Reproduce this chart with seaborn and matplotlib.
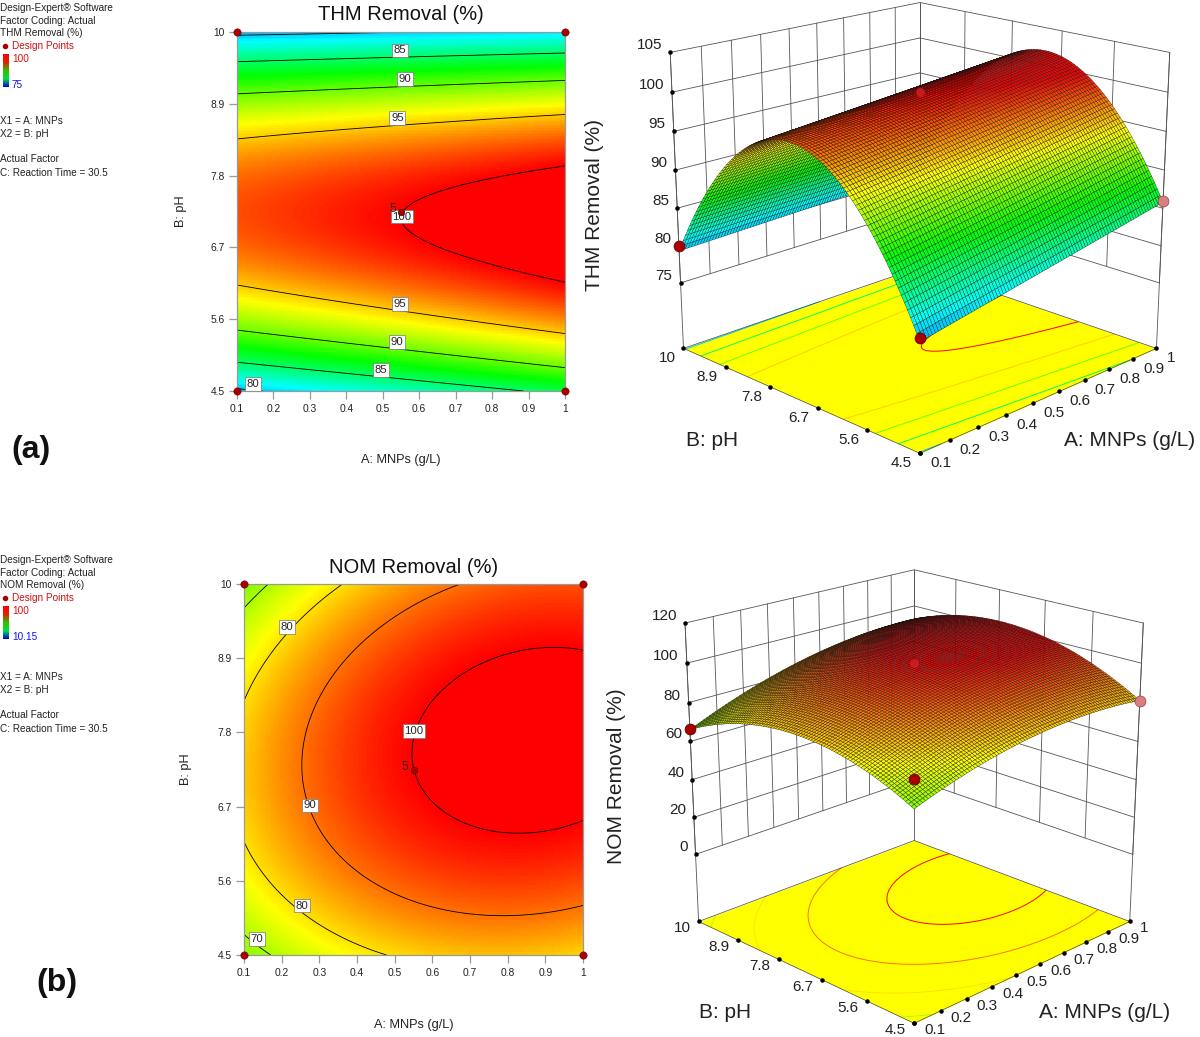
import numpy as np
import pandas as pd
import seaborn as sns
import matplotlib
matplotlib.use('Agg')
import matplotlib.pyplot as plt
from matplotlib.colors import LinearSegmentedColormap, Normalize
from mpl_toolkits.mplot3d import proj3d

# factor levels and ticks
mnp_ticks = [0.1, 0.2, 0.3, 0.4, 0.5, 0.6, 0.7, 0.8, 0.9, 1]
ph_ticks = [4.5, 5.6, 6.7, 7.8, 8.9, 10]
mnp_read = [0.1, 0.55, 1]
thm_z_ticks = [75, 80, 85, 90, 95, 100, 105]
nom_z_ticks = [0, 20, 40, 60, 80, 100, 120]

# removal values, one row per MNP level, pH along columns
thm_01 = [79.5, 91.4, 97.4, 97.3, 91.3, 79.35]
thm_055 = [82.65, 94.1, 99.5, 99.0, 92.4, 79.9]
thm_1 = [85.8, 96.7, 101.6, 100.6, 93.6, 80.6]
nom_01 = [66.7, 76.8, 81.7, 81.6, 76.4, 66.1]
nom_055 = [81.3, 92.6, 98.8, 99.9, 95.9, 86.9]
nom_1 = [81.1, 93.6, 101.0, 103.3, 100.6, 92.8]

thm_levels = [80, 85, 90, 95, 100]
nom_levels = [70, 80, 90, 100]

# contour label boxes: text, MNP, pH
thm_labels = [('85', 0.547, 9.72), ('90', 0.56, 9.28), ('95', 0.54, 8.68), ('100', 0.553, 7.17),
              ('95', 0.547, 5.83), ('90', 0.54, 5.25), ('85', 0.495, 4.82), ('80', 0.144, 4.61)]
nom_labels = [('80', 0.214, 9.36), ('90', 0.275, 6.72), ('100', 0.551, 7.82),
              ('80', 0.254, 5.23), ('70', 0.135, 4.74)]

# design points
corner_mnp = [0.1, 1, 0.1, 1]
corner_ph = [4.5, 4.5, 10, 10]
center_mnp = 0.55
center_ph = 7.25

# design points on the 3D plots: front, left, right, center
pts_mnp = [0.1, 0.1, 1, 0.55]
pts_ph = [4.5, 10, 4.5, 7.25]
thm_pts = [80, 80, 86, 100]
nom_pts = [80.7, 66.5, 81, 100]

sns.set_style('white')
plt.rcParams['font.family'] = ['Liberation Sans', 'DejaVu Sans']

cmap = LinearSegmentedColormap.from_list('de', ['#0000ff', '#00ffff', '#00ff00', '#ffff00', '#ff0000'])
legend_cmap = LinearSegmentedColormap.from_list('leg', ['#0000e0', '#00e040', '#30c000', '#e02000', '#ff0000'])
RED = '#a80000'


def fit_surface(table, x, y):
    # quadratic response model through the values
    rows = []
    vals = []
    for i, m in enumerate(mnp_read):
        for j, p in enumerate(ph_ticks):
            rows.append([1, m, p, m * p, m * m, p * p])
            vals.append(table[i][j])
    coef = np.linalg.lstsq(np.array(rows), np.array(vals), rcond=None)[0]
    return coef[0] + coef[1] * x + coef[2] * y + coef[3] * x * y + coef[4] * x * x + coef[5] * y * y


fig = plt.figure(figsize=(12, 10.37), dpi=100)


def px_text(x, y, s, **kw):
    fig.text(x / 1200, 1 - y / 1037, s, **kw)


def px_axes(left, top, right, bottom, **kw):
    return fig.add_axes([left / 1200, 1 - bottom / 1037, (right - left) / 1200, (bottom - top) / 1037], **kw)


def contour_panel(box, table, vmin, vmax, levels, labels, title, title_pad, xpad, ypad):
    left, top, right, bottom = box
    n = 220
    mg = np.linspace(0.1, 1, n)
    pg = np.linspace(4.5, 10, n)
    X, Y = np.meshgrid(mg, pg)
    Z = fit_surface(table, X, Y)
    df = pd.DataFrame(Z, index=pg, columns=mg)
    ax = px_axes(left, top, right, bottom)
    sns.heatmap(df, ax=ax, cmap=cmap, vmin=vmin, vmax=vmax, cbar=False, xticklabels=False, yticklabels=False)
    ax.invert_yaxis()

    def ix(v):
        return (np.asarray(v) - 0.1) / 0.9 * (n - 1) + 0.5

    def iy(v):
        return (np.asarray(v) - 4.5) / 5.5 * (n - 1) + 0.5

    ax.set_xlim(0.5, n - 0.5)
    ax.set_ylim(0.5, n - 0.5)
    ax.contour(ix(X), iy(Y), Z, levels=levels, colors='black', linewidths=0.6)
    ax.set_xticks(ix(mnp_ticks))
    ax.set_xticklabels([str(t) for t in mnp_ticks], fontsize=7.4)
    ax.set_yticks(iy(ph_ticks))
    ax.set_yticklabels([str(t) for t in ph_ticks], fontsize=7.4)
    ax.tick_params(left=True, bottom=True, length=6, width=0.9, color='#999999', pad=3, labelcolor='#222222')
    for s in ax.spines.values():
        s.set_visible(True)
        s.set_color('#999999')
        s.set_linewidth(0.9)
    for s, m, p in labels:
        ax.text(ix(m), iy(p), s, fontsize=8.2, ha='center', va='center', zorder=5,
                bbox=dict(boxstyle='square,pad=0.15', fc='white', ec='#777777', lw=0.5))
    ax.scatter(ix(corner_mnp), iy(corner_ph), s=28, color=RED, edgecolor='#700000', linewidth=0.4,
               clip_on=False, zorder=6)
    ax.scatter(ix(center_mnp), iy(center_ph), s=22, color=RED, edgecolor='#500000', linewidth=0.5, zorder=6)
    ax.text(ix(center_mnp - 0.022), iy(center_ph + 0.04), '5', fontsize=8.5, ha='center', va='center', zorder=6)
    ax.set_title(title, fontsize=14.5, pad=title_pad, color='#111111')
    ax.set_xlabel('A: MNPs (g/L)', fontsize=9.2, labelpad=xpad, color='#222222')
    ax.set_ylabel('B: pH', fontsize=9.2, labelpad=ypad, color='#222222')


def side_legend(y0, low, resp, vmin_text):
    c = '#222222'
    px_text(0, y0, 'Design-Expert® Software', fontsize=7.2, va='center', color=c)
    px_text(0, y0 + 13, 'Factor Coding: Actual', fontsize=7.2, va='center', color=c)
    px_text(0, y0 + 25.5, resp + ' Removal (%)', fontsize=7.2, va='center', color=c)
    px_text(12, y0 + 38, 'Design Points', fontsize=7.2, va='center', color='#d01010')
    fig.add_artist(plt.Line2D([5 / 1200], [1 - (y0 + 38) / 1037], marker='o', ms=3, color=RED,
                              transform=fig.transFigure))
    cax = px_axes(2.5, y0 + 46, 9, y0 + 79)
    sm = plt.cm.ScalarMappable(cmap=legend_cmap)
    cb = fig.colorbar(sm, cax=cax, ticks=[])
    cb.outline.set_visible(False)
    px_text(12, y0 + 51, '100', fontsize=7.2, va='center', color='#e01010')
    px_text(12, y0 + 76.5, vmin_text, fontsize=7.2, va='center', color='#1010ff')
    px_text(0, y0 + low, 'X1 = A: MNPs', fontsize=7.2, va='center', color=c)
    px_text(0, y0 + low + 13, 'X2 = B: pH', fontsize=7.2, va='center', color=c)
    px_text(0, y0 + low + 38.5, 'Actual Factor', fontsize=7.2, va='center', color=c)
    px_text(0, y0 + low + 51.5, 'C: Reaction Time = 30.5', fontsize=7.2, va='center', color=c)


def surface_panel(size, left, top, aspect, elev, focal, table, vmin, vmax, zticks, floor, levels, pts, floor_off):
    ax = fig.add_axes([left / 1200, 1 - (top + size) / 1037, size / 1200, size / 1037],
                      projection='3d', computed_zorder=False)
    ax.set_axis_off()
    ax.set_xticks([])
    ax.set_yticks([])
    ax.set_zticks([])
    ax.patch.set_alpha(0)
    ax.set_proj_type('persp', focal_length=focal)
    ax.view_init(elev=elev, azim=-135)
    ax.set_box_aspect(aspect)
    ax.set_xlim(0.1, 1)
    ax.set_ylim(4.5, 10)
    ztop = zticks[-1]
    zlow = zticks[0]
    ax.set_zlim(floor, ztop)

    grid = dict(color='#555555', lw=0.6, zorder=0)
    for t in mnp_ticks:
        ax.plot([t, t], [10, 10], [zlow, ztop], **grid)
    for t in ph_ticks:
        ax.plot([1, 1], [t, t], [zlow, ztop], **grid)
    for z in zticks:
        ax.plot([0.1, 1], [10, 10], [z, z], **grid)
        ax.plot([1, 1], [4.5, 10], [z, z], **grid)
    ax.plot([0.1, 0.1], [10, 10], [floor, ztop], **grid)
    ax.plot([1, 1], [10, 10], [floor, ztop], **grid)
    ax.plot([1, 1], [4.5, 4.5], [floor, ztop], **grid)

    # yellow floor with the projected contours
    fx, fy = np.meshgrid([0.1, 1], [4.5, 10])
    ax.plot_surface(fx, fy, np.full(fx.shape, floor), color='#ffff00', shade=False, linewidth=0, zorder=1)
    n = 90
    X, Y = np.meshgrid(np.linspace(0.1, 1, n), np.linspace(4.5, 10, n))
    Z = fit_surface(table, X, Y)
    norm = Normalize(vmin, vmax)
    ax.contour(X, Y, Z, levels=levels, zdir='z', offset=floor, cmap=cmap, norm=norm, linewidths=0.7, zorder=2)
    ax.plot([0.1, 1, 1, 0.1, 0.1], [4.5, 4.5, 10, 10, 4.5], [floor] * 5, color='#444444', lw=0.5, zorder=2)

    ax.plot_surface(X, Y, Z, facecolors=cmap(norm(Z)), rcount=n, ccount=n, shade=False,
                    edgecolor='#101010', linewidth=0.24, zorder=3)

    # tick dots and labels, placed by projecting the tick position
    proj = ax.get_proj()

    def tick_label(x, y, z, s, off, ha):
        px, py, _ = proj3d.proj_transform(x, y, z, proj)
        ax.annotate(s, xy=(px, py), xycoords='data', xytext=off, textcoords='offset pixels', fontsize=11,
                    ha=ha, va='center', color='#222222', zorder=7, annotation_clip=False)

    for z in zticks:
        ax.scatter([0.1], [10], [z], s=5, color='black', depthshade=False, zorder=2)
        tick_label(0.1, 10, z, str(z), (-8, 7), 'right')
    for t in ph_ticks:
        ax.scatter([0.1], [t], [floor], s=5, color='black', depthshade=False, zorder=2)
        tick_label(0.1, t, floor, str(t), (-8, floor_off), 'right')
    for t in mnp_ticks:
        ax.scatter([t], [4.5], [floor], s=5, color='black', depthshade=False, zorder=2)
        tick_label(t, 4.5, floor, str(t), (10, floor_off), 'left')

    # design points, center one sits behind the mesh
    ax.scatter(pts_mnp[:2], pts_ph[:2], pts[:2], s=62, color=RED, edgecolor='#600000', linewidth=0.5,
               depthshade=False, zorder=6)
    ax.scatter(pts_mnp[2], pts_ph[2], pts[2], s=62, color='#d88080', edgecolor='#904040', linewidth=0.5,
               depthshade=False, zorder=6)
    ax.scatter(pts_mnp[3], pts_ph[3], pts[3], s=40, color='#d82020', linewidth=0, alpha=0.8,
               depthshade=False, zorder=6)


thm_table = [thm_01, thm_055, thm_1]
nom_table = [nom_01, nom_055, nom_1]

contour_panel((237, 32, 565, 391), thm_table, 75, 100, thm_levels, thm_labels, 'THM Removal (%)', 9, 29, 17)
contour_panel((244, 584, 583, 955), nom_table, 10.15, 100, nom_levels, nom_labels, 'NOM Removal (%)', 8, 30, 18)

side_legend(8, 113, 'THM', '75')
side_legend(560, 117, 'NOM', '10.15')

surface_panel(560, 632.4, -68, (1, 1, 0.905), 18, 0.58, thm_table, 75, 100, thm_z_ticks, 66, thm_levels, thm_pts, -10)
surface_panel(530, 642, 519, (1, 1, 1.01), 20, 0.62, nom_table, 10.15, 100, nom_z_ticks, -37, nom_levels, nom_pts, -7)

px_text(594, 205, 'THM Removal (%)', fontsize=15, rotation=90, ha='center', va='center', color='#222222')
px_text(712, 440, 'B: pH', fontsize=15, ha='center', va='center', color='#222222')
px_text(1130, 441, 'A: MNPs (g/L)', fontsize=15, ha='center', va='center', color='#222222')
px_text(617, 776, 'NOM Removal (%)', fontsize=15, rotation=90, ha='center', va='center', color='#222222')
px_text(725, 1012, 'B: pH', fontsize=15, ha='center', va='center', color='#222222')
px_text(1105, 1012, 'A: MNPs (g/L)', fontsize=15, ha='center', va='center', color='#222222')

px_text(31, 450, '(a)', fontsize=23, fontweight='bold', ha='center', va='center', color='#111111')
px_text(57, 983, '(b)', fontsize=23, fontweight='bold', ha='center', va='center', color='#111111')

fig.savefig('out.png', dpi=100)
